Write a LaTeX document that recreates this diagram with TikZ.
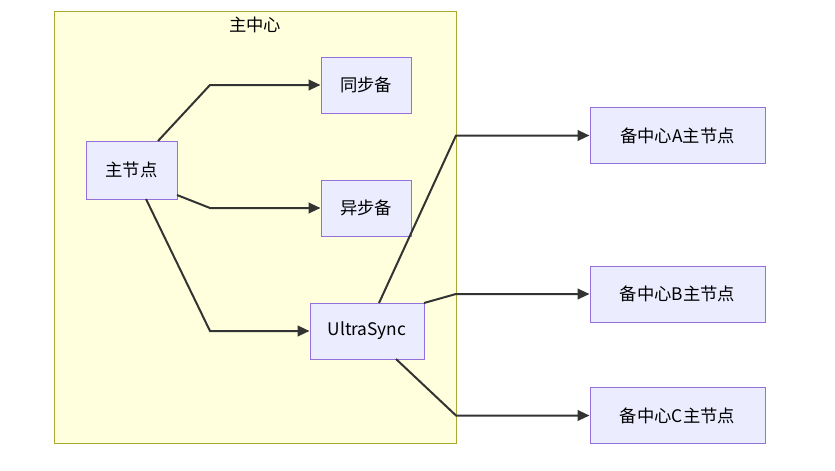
\documentclass[tikz,border=0pt]{standalone}
\usepackage{fontspec}
\setmainfont{Noto Sans CJK SC}
\usetikzlibrary{arrows.meta}
\definecolor{nodefill}{HTML}{ECECFF}
\definecolor{nodeline}{HTML}{9370DB}
\definecolor{clusterfill}{HTML}{FFFFDE}
\definecolor{clusterline}{HTML}{AAAA33}
\definecolor{edgeline}{HTML}{333333}
\begin{document}
\begin{tikzpicture}[x=0.75pt,y=-0.75pt,
  box/.style={draw=nodeline,fill=nodefill,line width=0.75pt,font=\fontsize{13}{15}\selectfont,inner sep=0pt},
  link/.style={draw=edgeline,line width=1.5pt,-{Triangle[length=9pt,width=8pt]}}]
\useasboundingbox (0,0) rectangle (835,471);
% cluster
\draw[fill=clusterfill,draw=clusterline,line width=0.75pt] (54,11) rectangle (456,443);
\node[font=\fontsize{13}{15}\selectfont] (title) at (255,25) {主中心};
% nodes
\node[box,minimum width=68.25pt,minimum height=43.5pt] (main) at (131.5,170) {主节点};
\node[box,minimum width=67.5pt,minimum height=42pt] (sync) at (366,85) {同步备};
\node[box,minimum width=67.5pt,minimum height=42pt] (async) at (366,208) {异步备};
\node[box,minimum width=85.5pt,minimum height=42pt] (ultra) at (367,331) {UltraSync};
\node[box,minimum width=131.25pt,minimum height=42pt] (ca) at (677.5,135.5) {备中心A主节点};
\node[box,minimum width=131.25pt,minimum height=42pt] (cb) at (677.5,294) {备中心B主节点};
\node[box,minimum width=131.25pt,minimum height=42pt] (cc) at (677.5,415.5) {备中心C主节点};
% waypoints
\coordinate (w1) at (210,85);
\coordinate (w2) at (210,208);
\coordinate (w3) at (210,331);
\coordinate (w4) at (456,135.5);
\coordinate (w5) at (456,294);
\coordinate (w6) at (456,415.5);
% edges
\draw[link] (158,141) -- (w1) -- (sync);
\draw[link] (177,195) -- (w2) -- (async);
\draw[link] (146,199) -- (w3) -- (ultra);
\draw[link] (379,303) -- (w4) -- (ca);
\draw[link] (424,303) -- (w5) -- (cb);
\draw[link] (396,359) -- (w6) -- (cc);
\end{tikzpicture}
\end{document}
